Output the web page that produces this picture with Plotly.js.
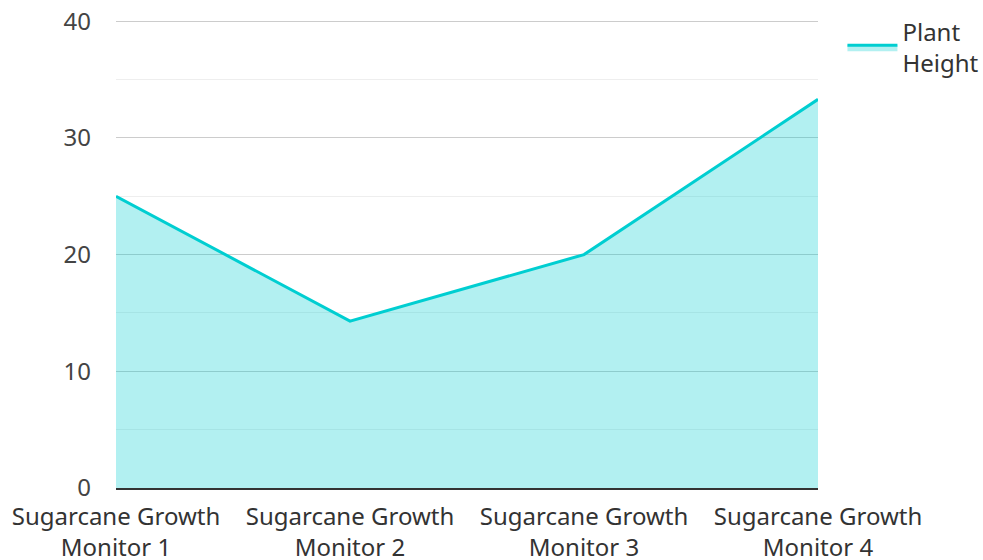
<!DOCTYPE html>
<html><head><meta charset="utf-8">
<script src="https://cdn.plot.ly/plotly-3.0.1.min.js"></script>
<style>body{margin:0;}#chart{width:983px;height:560px;}</style>
</head><body><div id="chart"></div>
<script>
var categories = ["Sugarcane Growth<br>Monitor 1", "Sugarcane Growth<br>Monitor 2", "Sugarcane Growth<br>Monitor 3", "Sugarcane Growth<br>Monitor 4"];
var plantHeight = [25, 14.3, 20, 33.3];
var seriesName = "Plant<br>Height";

var trace = {
  x: categories, y: plantHeight, type: "scatter", mode: "lines",
  name: seriesName, fill: "tozeroy",
  fillcolor: "rgba(0,206,209,0.3)",
  line: {color: "#00ced1", width: 3}
};
var layout = {
  width: 983, height: 560,
  margin: {l: 116, r: 165, t: 20, b: 72},
  paper_bgcolor: "#fff", plot_bgcolor: "#fff",
  font: {family: "Noto Sans", size: 24, color: "#444"},
  showlegend: true,
  legend: {xref: "container", yref: "container", x: 0.857, y: 0.983, xanchor: "left", yanchor: "top", itemwidth: 50,
           font: {size: 24, color: "#333"}},
  xaxis: {range: [0, 3], showgrid: false, showline: true, linecolor: "#333", linewidth: 2,
          ticks: "", ticklabelstandoff: 6, tickfont: {size: 24, color: "#333"}, zeroline: false},
  yaxis: {range: [0, 40.1], tickvals: [0, 10, 20, 30, 40], showgrid: true, gridcolor: "#ccc", gridwidth: 1,
          zeroline: false, ticks: "", ticklabelstandoff: 24, tickfont: {size: 24, color: "#444"},
          minor: {tickvals: [5, 15, 25, 35], showgrid: true, gridcolor: "#eee", gridwidth: 1}}
};
Plotly.newPlot("chart", [trace], layout, {displayModeBar: false});
</script></body></html>
